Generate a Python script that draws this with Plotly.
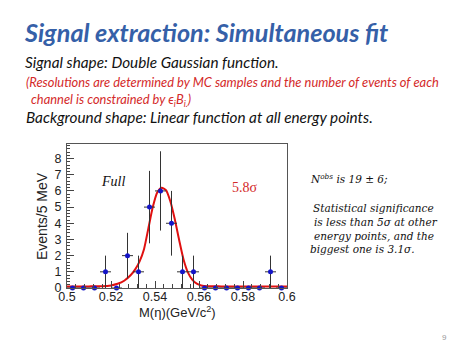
import plotly.graph_objects as go

W, H = 474, 355

# ---- data ----
bin_centers = [0.5025, 0.5075, 0.5125, 0.5175, 0.5225, 0.5275, 0.5325, 0.5375, 0.5425, 0.5475,
               0.5525, 0.5575, 0.5625, 0.5675, 0.5725, 0.5775, 0.5825, 0.5875, 0.5925, 0.5975]
counts = [0, 0, 0, 1, 0, 2, 1, 5, 6, 4, 1, 1, 0, 0, 0, 0, 0, 0, 1, 0]
count_err = [0, 0, 0, 1.0, 0, 1.41, 1.0, 2.24, 2.45, 2.0, 1.0, 1.0, 0, 0, 0, 0, 0, 0, 1.0, 0]
bin_half_width = 0.0025

fit_x = [0.500, 0.510, 0.516, 0.520, 0.523, 0.526, 0.529, 0.531, 0.533, 0.535, 0.537, 0.539, 0.541,
         0.543, 0.545, 0.547, 0.549, 0.551, 0.553, 0.555, 0.557, 0.559, 0.561, 0.564, 0.570, 0.580, 0.600]
fit_y = [0.10, 0.10, 0.11, 0.16, 0.26, 0.45, 0.80, 1.15, 1.65, 2.40, 3.70, 5.00, 5.90,
         6.20, 6.05, 5.35, 4.25, 2.95, 1.75, 0.95, 0.50, 0.27, 0.16, 0.11, 0.10, 0.10, 0.10]

x_ticks = [0.5, 0.52, 0.54, 0.56, 0.58, 0.6]
x_tick_text = ["0.5", "0.52", "0.54", "0.56", "0.58", "0.6"]
y_ticks = [0, 1, 2, 3, 4, 5, 6, 7, 8]

# ---- plot area in pixels ----
PL, PR, PT, PB = 67, 287, 144, 288

fig = go.Figure()

fig.add_trace(go.Scatter(
    x=fit_x, y=fit_y, mode="lines", line=dict(color="#e01010", width=2, shape="spline", smoothing=0.6),
    hoverinfo="skip", cliponaxis=True))

fig.add_trace(go.Scatter(
    x=bin_centers, y=counts, mode="markers",
    marker=dict(color="#1414c8", size=5),
    error_y=dict(type="data", array=count_err, symmetric=True, color="#333333", thickness=1, width=0),
    error_x=dict(type="constant", value=bin_half_width, color="#333333", thickness=1, width=0),
    cliponaxis=False))

axis_font = dict(family="Liberation Sans, Arial", size=12.5, color="#222222")

fig.update_xaxes(
    domain=[PL / W, PR / W], range=[0.5, 0.6], tickvals=x_ticks, ticktext=x_tick_text,
    ticks="inside", ticklen=7, tickcolor="#444444", tickfont=axis_font, automargin=False,
    showline=True, linecolor="#555555", linewidth=1, mirror=True, showgrid=False, zeroline=False,
    minor=dict(dtick=0.004, tick0=0.5, ticks="inside", ticklen=4, tickcolor="#444444", showgrid=False),
    ticklabelstandoff=-3)
fig.update_yaxes(
    domain=[1 - PB / H, 1 - PT / H], range=[0, 8.9], tickvals=y_ticks,
    ticks="inside", ticklen=7, tickcolor="#444444", tickfont=axis_font, automargin=False,
    showline=True, linecolor="#555555", linewidth=1, mirror=True, showgrid=False, zeroline=False,
    minor=dict(dtick=0.2, ticks="inside", ticklen=3, tickcolor="#444444", showgrid=False),
    ticklabelstandoff=2)


def px(x):
    return x / W


def py(y):
    return 1 - y / H


body = "Lato"
serif = "DejaVu Serif"
annots = [
    dict(text="<i><b>Signal extraction: Simultaneous fit</b></i>", x=px(22), y=py(32),
         font=dict(family=body, size=25.2, color="#3560a8")),
    dict(text="<i>Signal shape: Double Gaussian function.</i>", x=px(23), y=py(62),
         font=dict(family=body, size=15.3, color="#111111")),
    dict(text="<i>(Resolutions are determined by MC samples and the number of events of each</i>",
         x=px(24), y=py(82), font=dict(family=body, size=12.9, color="#d42a2a")),
    dict(text="<i>channel is constrained by ϵ<sub>i</sub>B<sub>i.</sub>)</i>",
         x=px(29), y=py(100), font=dict(family=body, size=12.9, color="#d42a2a")),
    dict(text="<i>Background shape: Linear function at all energy points.</i>", x=px(24), y=py(117),
         font=dict(family=body, size=15.3, color="#111111")),
    # chart labels
    dict(text="<i>Full</i>", x=px(99), y=py(181),
         font=dict(family="Liberation Serif", size=14, color="#111111")),
    dict(text="5.8σ", x=px(230), y=py(187),
         font=dict(family="Liberation Serif", size=14, color="#d42a2a")),
    # right side text
    dict(text="<i>N<sup>obs</sup> is 19 ± 6;</i>", x=px(308), y=py(178),
         font=dict(family=serif, size=10.5, color="#111111")),
    dict(text="<i>Statistical significance</i>", x=px(311), y=py(208),
         font=dict(family=serif, size=10.5, color="#111111")),
    dict(text="<i>is less than 5σ at other</i>", x=px(312), y=py(222),
         font=dict(family=serif, size=10.5, color="#111111")),
    dict(text="<i>energy points, and the</i>", x=px(312), y=py(236),
         font=dict(family=serif, size=10.5, color="#111111")),
    dict(text="<i>biggest one is 3.1σ.</i>", x=px(308), y=py(249),
         font=dict(family=serif, size=10.5, color="#111111")),
    # page number
    dict(text="9", x=px(440), y=py(337), font=dict(family="Liberation Sans", size=8, color="#999999")),
]
for a in annots:
    a.update(xref="paper", yref="paper", xanchor="left", yanchor="middle", showarrow=False)

# axis titles
annots.append(dict(text="Events/5 MeV", x=px(42), y=py(216), xref="paper", yref="paper",
                   textangle=-90, showarrow=False, xanchor="center", yanchor="middle",
                   font=dict(family="Liberation Sans, Arial", size=14, color="#222222")))
annots.append(dict(text="M(η)(GeV/c<sup>2</sup>)", x=px(177), y=py(312), xref="paper", yref="paper",
                   showarrow=False, xanchor="center", yanchor="middle",
                   font=dict(family="Liberation Sans, Arial", size=13, color="#222222")))

fig.update_layout(
    width=W, height=H, margin=dict(l=0, r=0, t=0, b=0),
    paper_bgcolor="white", plot_bgcolor="white", showlegend=False,
    annotations=annots)

fig.write_html("out.html")
